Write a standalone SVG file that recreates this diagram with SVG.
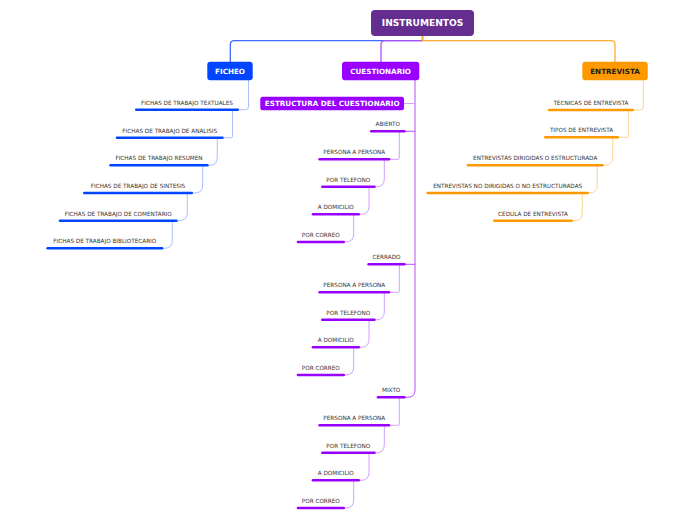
<svg xmlns="http://www.w3.org/2000/svg" width="696" height="520" viewBox="0 0 696 520">
<style>
.bg{fill:#ffffff}
.lbl{font-family:"DejaVu Sans",Verdana,sans-serif;font-size:5.7px;fill:#333333;text-anchor:middle}
.hd{font-family:"DejaVu Sans",Verdana,sans-serif;font-weight:bold;font-size:7.2px;fill:#ffffff;text-anchor:middle}
.root{font-family:"DejaVu Sans",Verdana,sans-serif;font-weight:bold;font-size:9.1px;fill:#ffffff;text-anchor:middle}
.bar{fill:none;stroke-width:2.4;stroke-linecap:round}
.con{fill:none;stroke-width:1;stroke-linecap:round}
.main{fill:none;stroke-width:1.3}
.blue{stroke:#0045ff}
.purple{stroke:#9900ff}
.orange{stroke:#ff9900}
.cblue{stroke:#a8bfff}
.cpurple{stroke:#d39fff}
.corange{stroke:#ffd38f}
</style>
<rect class="bg" x="0" y="0" width="696" height="520"/>
<g id="connectors">
  <path class="main" stroke="#3d6bff" d="M422.5 36 V40.7 H234.3 Q230.3 40.7 230.3 44.7 V62"/>
  <path class="main" stroke="#b04dff" d="M422.5 36 V40.7 H385 Q381 40.7 381 44.7 V62"/>
  <path class="main" stroke="#ffad33" d="M422.5 36 V40.7 H611 Q615 40.7 615 44.7 V62"/>
  <!-- FICHEO -->
  <path class="con cblue" d="M248.5 80 V106.7 Q248.5 109.7 245.5 109.7 H238"/>
  <path class="con cblue" d="M232.5 109.7 V136.7 Q232.5 137.7 231.5 137.7 H222.5"/>
  <path class="con cblue" d="M217.3 137.7 V157.3 Q217.3 165.3 209.3 165.3 H207.5"/>
  <path class="con cblue" d="M202.7 165.3 V185 Q202.7 193 194.7 193 H192"/>
  <path class="con cblue" d="M187.3 193 V212.7 Q187.3 220.7 179.3 220.7 H176.5"/>
  <path class="con cblue" d="M172.3 220.7 V240.3 Q172.3 248.3 164.3 248.3 H162"/>
  <!-- ENTREVISTA -->
  <path class="con corange" d="M643.3 80 V107 Q643.3 110 640.3 110 H633"/>
  <path class="con corange" d="M628.3 110 V136.3 Q628.3 137.3 627.3 137.3 H618"/>
  <path class="con corange" d="M612.7 137.3 V157.3 Q612.7 165.3 604.7 165.3 H602.5"/>
  <path class="con corange" d="M597.3 165.3 V185 Q597.3 193 589.3 193 H588"/>
  <path class="con corange" d="M582.3 193 V212.7 Q582.3 220.7 574.3 220.7 H572"/>
  <!-- CUESTIONARIO -->
  <path class="con" stroke="#b94dff" stroke-width="1.2" d="M415 80 V390 Q415 397.3 407.7 397.3 H404.5"/>
  <path class="con cpurple" d="M404 103.5 H415"/>
  <path class="con" stroke="#b94dff" d="M415 131.3 H404.5"/>
  <path class="con" stroke="#b94dff" d="M415 264.3 H404.5"/>
  <g transform="translate(0,131.3)">
    <path class="con cpurple" d="M399.3 0 V27 Q399.3 28 398.3 28 H389.1"/>
    <path class="con cpurple" d="M384.3 28 V47.5 Q384.3 55.5 376.3 55.5 H374.5"/>
    <path class="con cpurple" d="M369 55.5 V75 Q369 83 361 83 H358.8"/>
    <path class="con cpurple" d="M353.7 83 V102.7 Q353.7 110.7 345.7 110.7 H343.8"/>
  </g>
  <g transform="translate(0,264.3)">
    <path class="con cpurple" d="M399.3 0 V27 Q399.3 28 398.3 28 H389.1"/>
    <path class="con cpurple" d="M384.3 28 V47.5 Q384.3 55.5 376.3 55.5 H374.5"/>
    <path class="con cpurple" d="M369 55.5 V75 Q369 83 361 83 H358.8"/>
    <path class="con cpurple" d="M353.7 83 V102.7 Q353.7 110.7 345.7 110.7 H343.8"/>
  </g>
  <g transform="translate(0,397.3)">
    <path class="con cpurple" d="M399.3 0 V27 Q399.3 28 398.3 28 H389.1"/>
    <path class="con cpurple" d="M384.3 28 V47.5 Q384.3 55.5 376.3 55.5 H374.5"/>
    <path class="con cpurple" d="M369 55.5 V75 Q369 83 361 83 H358.8"/>
    <path class="con cpurple" d="M353.7 83 V102.7 Q353.7 110.7 345.7 110.7 H343.8"/>
  </g>
</g>

<g id="instrumentos">
  <rect x="371" y="10" width="103" height="26" rx="4" fill="#652d90"/>
  <text class="root" x="422.5" y="26.3">INSTRUMENTOS</text>
</g>
<g id="ficheo">
  <rect x="207.3" y="61.7" width="45.4" height="18.6" rx="3" fill="#0045ff"/>
  <text class="hd" x="230" y="73.6">FICHEO</text>
</g>
<g id="cuestionario">
  <rect x="342" y="61.7" width="77.3" height="18.6" rx="3" fill="#9900ff"/>
  <text class="hd" x="380.6" y="73.6">CUESTIONARIO</text>
</g>
<g id="entrevista">
  <rect x="582.3" y="61.7" width="65.4" height="18.6" rx="3" fill="#ff9900"/>
  <text class="hd" x="615" y="73.6" style="fill:#1a1a1a">ENTREVISTA</text>
</g>

<g id="f1"><path class="bar blue" d="M136.2 109.7 H237.8"/><text class="lbl" x="187" y="104.5">FICHAS DE TRABAJO TEXTUALES</text></g>
<g id="f2"><path class="bar blue" d="M116.9 137.7 H222.5"/><text class="lbl" x="169.7" y="132.5">FICHAS DE TRABAJO DE ANALISIS</text></g>
<g id="f3"><path class="bar blue" d="M110.5 165.3 H207.5"/><text class="lbl" x="159" y="160.1">FICHAS DE TRABAJO RESUMEN</text></g>
<g id="f4"><path class="bar blue" d="M84.2 193 H191.8"/><text class="lbl" x="138" y="187.8">FICHAS DE TRABAJO DE SINTESIS</text></g>
<g id="f5"><path class="bar blue" d="M59.9 220.7 H176.5"/><text class="lbl" x="118.2" y="215.5">FICHAS DE TRABAJO DE COMENTARIO</text></g>
<g id="f6"><path class="bar blue" d="M47.5 248.3 H162.1"/><text class="lbl" x="104.8" y="243.1">FICHAS DE TRABAJO BIBLIOTECARIO</text></g>

<g id="e1"><path class="bar orange" d="M548.9 110 H632.8"/><text class="lbl" x="590.9" y="104.8">TECNICAS DE ENTREVISTA</text></g>
<g id="e2"><path class="bar orange" d="M545.2 137.3 H617.8"/><text class="lbl" x="581.5" y="132.1">TIPOS DE ENTREVISTA</text></g>
<g id="e3"><path class="bar orange" d="M467.9 165.3 H602.5"/><text class="lbl" x="535.2" y="160.1">ENTREVISTAS DIRIGIDAS O ESTRUCTURADA</text></g>
<g id="e4"><path class="bar orange" d="M427.5 193 H587.8"/><text class="lbl" x="507.7" y="187.8">ENTREVISTAS NO DIRIGIDAS O NO ESTRUCTURADAS</text></g>
<g id="e5"><path class="bar orange" d="M494.2 220.7 H571.8"/><text class="lbl" x="533" y="215.5">CEDULA DE ENTREVISTA</text></g>

<g id="estructura">
  <rect x="260.3" y="96.7" width="143.7" height="13.6" rx="2.5" fill="#9900ff"/>
  <text class="hd" x="332.2" y="106.1">ESTRUCTURA DEL CUESTIONARIO</text>
</g>

<g id="abierto" transform="translate(0,131.3)"><path class="bar purple" d="M371.2 0 H404.5"/><text class="lbl" x="387.8" y="-5.2">ABIERTO</text></g>
<g id="abierto-persona" transform="translate(0,131.3)"><path class="bar purple" d="M319.5 28 H389.1"/><text class="lbl" x="354.3" y="22.8">PERSONA A PERSONA</text></g>
<g id="abierto-telefono" transform="translate(0,131.3)"><path class="bar purple" d="M322.2 55.5 H374.5"/><text class="lbl" x="348.3" y="50.3">POR TELEFONO</text></g>
<g id="abierto-domicilio" transform="translate(0,131.3)"><path class="bar purple" d="M312.9 83 H358.8"/><text class="lbl" x="335.8" y="77.8">A DOMICILIO</text></g>
<g id="abierto-correo" transform="translate(0,131.3)"><path class="bar purple" d="M297.9 110.7 H343.8"/><text class="lbl" x="320.8" y="105.5">POR CORREO</text></g>

<g id="cerrado" transform="translate(0,264.3)"><path class="bar purple" d="M368.5 0 H404.5"/><text class="lbl" x="386.5" y="-5.2">CERRADO</text></g>
<g id="cerrado-persona" transform="translate(0,264.3)"><path class="bar purple" d="M319.5 28 H389.1"/><text class="lbl" x="354.3" y="22.8">PERSONA A PERSONA</text></g>
<g id="cerrado-telefono" transform="translate(0,264.3)"><path class="bar purple" d="M322.2 55.5 H374.5"/><text class="lbl" x="348.3" y="50.3">POR TELEFONO</text></g>
<g id="cerrado-domicilio" transform="translate(0,264.3)"><path class="bar purple" d="M312.9 83 H358.8"/><text class="lbl" x="335.8" y="77.8">A DOMICILIO</text></g>
<g id="cerrado-correo" transform="translate(0,264.3)"><path class="bar purple" d="M297.9 110.7 H343.8"/><text class="lbl" x="320.8" y="105.5">POR CORREO</text></g>

<g id="mixto" transform="translate(0,397.3)"><path class="bar purple" d="M377.9 0 H404.5"/><text class="lbl" x="391.2" y="-5.2">MIXTO</text></g>
<g id="mixto-persona" transform="translate(0,397.3)"><path class="bar purple" d="M319.5 28 H389.1"/><text class="lbl" x="354.3" y="22.8">PERSONA A PERSONA</text></g>
<g id="mixto-telefono" transform="translate(0,397.3)"><path class="bar purple" d="M322.2 55.5 H374.5"/><text class="lbl" x="348.3" y="50.3">POR TELEFONO</text></g>
<g id="mixto-domicilio" transform="translate(0,397.3)"><path class="bar purple" d="M312.9 83 H358.8"/><text class="lbl" x="335.8" y="77.8">A DOMICILIO</text></g>
<g id="mixto-correo" transform="translate(0,397.3)"><path class="bar purple" d="M297.9 110.7 H343.8"/><text class="lbl" x="320.8" y="105.5">POR CORREO</text></g>
</svg>
